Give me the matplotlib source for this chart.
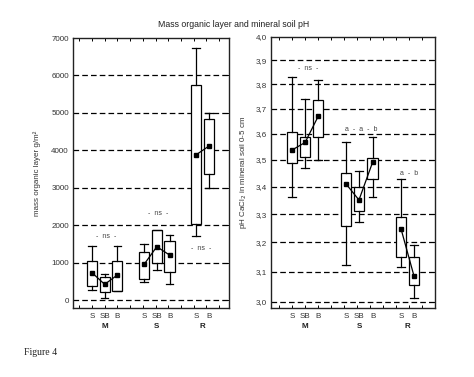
import numpy as np
import matplotlib
matplotlib.use("Agg")
import matplotlib.pyplot as plt
from matplotlib.ticker import FixedLocator, FuncFormatter, NullLocator
from matplotlib.transforms import blended_transform_factory

plt.rcParams['font.family'] = ['Liberation Sans', 'DejaVu Sans']

# categories
groups = ["M", "S", "R"]
sub_labels = ["S", "SB", "B", "S", "SB", "B", "S", "B"]
group_of = [0, 0, 0, 1, 1, 1, 2, 2]

# mass organic layer (g/m2): whisker low, q1, centre, q3, whisker high
mass_wlo = [267, 45, 240, 472, 802, 428, 1718, 2985]
mass_q1 = [382, 222, 249, 561, 980, 757, 2031, 3367]
mass_mid = [730, 419, 668, 953, 1425, 1202, 3883, 4115]
mass_q3 = [1050, 606, 1050, 1291, 1870, 1585, 5745, 4828]
mass_whi = [1451, 695, 1451, 1488, 1880, 1737, 6725, 4988]
mass_notes = ["-  ns  -", "-  ns  -", "-  ns  -"]
mass_note_y = [1690, 2305, 1380]

# pH CaCl2 mineral soil 0-5 cm
ph_wlo = [3.361, 3.469, 3.500, 3.123, 3.271, 3.361, 3.115, 3.012]
ph_q1 = [3.487, 3.510, 3.590, 3.259, 3.312, 3.429, 3.151, 3.054]
ph_mid = [3.538, 3.567, 3.669, 3.410, 3.351, 3.491, 3.246, 3.084]
ph_q3 = [3.609, 3.587, 3.736, 3.450, 3.400, 3.509, 3.289, 3.151]
ph_whi = [3.829, 3.739, 3.818, 3.568, 3.458, 3.590, 3.429, 3.191]
ph_notes = ["-  ns  -", "a  -  a  -  b", "a  -  b"]
ph_note_y = [3.866, 3.619, 3.450]

mass_ticks = [0, 1000, 2000, 3000, 4000, 5000, 6000, 7000]
ph_ticks = [3.0, 3.1, 3.2, 3.3, 3.4, 3.5, 3.6, 3.7, 3.8, 3.9, 4.0]

# layout
pos_left = [0, 1, 2, 4.1, 5.1, 6.1, 8.2, 9.2]
pos_right = [0, 1, 2, 4.15, 5.15, 6.2, 8.4, 9.4]
note_x_left = [1.1, 5.2, 8.6]
note_x_right = [1.2, 5.3, 9.0]

fig = plt.figure(figsize=(4.74, 3.77), dpi=100)
ax1 = fig.add_axes([0.154, 0.183, 0.329, 0.716])
ax2 = fig.add_axes([0.572, 0.183, 0.346, 0.719])

fs = 5.8


def draw_panel(ax, pos, wlo, q1, mid, q3, whi, notes, note_x, note_y):
    stats = []
    for i in range(len(pos)):
        stats.append({"whislo": wlo[i], "q1": q1[i], "med": mid[i],
                      "q3": q3[i], "whishi": whi[i], "fliers": []})
    ax.bxp(stats, positions=pos, widths=0.8, patch_artist=True,
           showfliers=False, manage_ticks=False,
           boxprops=dict(facecolor="white", edgecolor="black", linewidth=0.9),
           whiskerprops=dict(color="black", linewidth=0.9),
           capprops=dict(color="black", linewidth=0.9),
           capwidths=0.6,
           medianprops=dict(linewidth=0),
           zorder=3)
    for g in range(len(groups)):
        idx = [i for i in range(len(pos)) if group_of[i] == g]
        ax.plot([pos[i] for i in idx], [mid[i] for i in idx], color="black",
                linewidth=0.9, marker="s", markersize=3.2, zorder=5)
    for g in range(len(groups)):
        ax.text(note_x[g], note_y[g], notes[g], fontsize=5, color="#444444",
                ha="center", va="center", zorder=6)
    # sub labels and group labels
    tr = blended_transform_factory(ax.transData, ax.transAxes)
    for i in range(len(pos)):
        ax.text(pos[i], -0.032, sub_labels[i], transform=tr, ha="center",
                va="center", fontsize=fs, color="#333333")
    for g in range(len(groups)):
        idx = [i for i in range(len(pos)) if group_of[i] == g]
        cx = np.mean([pos[i] for i in idx])
        ax.text(cx, -0.069, groups[g], transform=tr, ha="center", va="center",
                fontsize=fs, fontweight="bold", color="#222222")
    ax.set_xticks([])
    ax.xaxis.set_minor_locator(FixedLocator(np.arange(-1, 12)))
    ax.tick_params(axis="x", which="minor", direction="in", length=2.5,
                   width=0.7, top=True, bottom=True)
    ax.tick_params(axis="y", which="major", direction="in", length=2.5,
                   width=0.7, left=True, right=True, labelsize=fs,
                   labelcolor="#333333", pad=3)
    for s in ax.spines.values():
        s.set_linewidth(1.0)
        s.set_color("#222222")


# left panel
draw_panel(ax1, pos_left, mass_wlo, mass_q1, mass_mid, mass_q3, mass_whi,
           mass_notes, note_x_left, mass_note_y)
ax1.set_xlim(-1.49, 10.77)
ax1.set_ylim(-214, 7000)
ax1.yaxis.set_major_locator(FixedLocator(mass_ticks))
for t in mass_ticks[:-1]:
    ax1.axhline(t, color="black", linewidth=0.9, linestyle=(0, (4.5, 2.5)),
                zorder=1)
ax1.set_ylabel("mass organic layer g/m²", fontsize=fs, color="#333333",
               labelpad=7)

# right panel
draw_panel(ax2, pos_right, ph_wlo, ph_q1, ph_mid, ph_q3, ph_whi,
           ph_notes, note_x_right, ph_note_y)
ax2.set_xlim(-1.62, 11.02)
ax2.set_yscale("log")
ax2.set_ylim(2.98, 4.0)
ax2.yaxis.set_major_locator(FixedLocator(ph_ticks))
ax2.yaxis.set_minor_locator(NullLocator())
ax2.yaxis.set_major_formatter(FuncFormatter(lambda v, p: f"{v:.1f}".replace(".", ",")))
for t in ph_ticks[:-1]:
    ax2.axhline(t, color="black", linewidth=0.9, linestyle=(0, (4.5, 2.5)),
                zorder=1)
ax2.set_ylabel("pH CaCl$_2$ in mineral soil 0-5 cm", fontsize=fs,
               color="#333333", labelpad=5)

fig.text(0.492, 0.934, "Mass organic layer and mineral soil pH", fontsize=6.3,
         ha="center", va="center", color="#222222")
fig.text(0.05, 0.064, "Figure 4", fontsize=7, ha="left", va="center",
         family=["Liberation Serif", "DejaVu Serif"], color="#222222")

fig.savefig("out.png", dpi=100, facecolor="white")
